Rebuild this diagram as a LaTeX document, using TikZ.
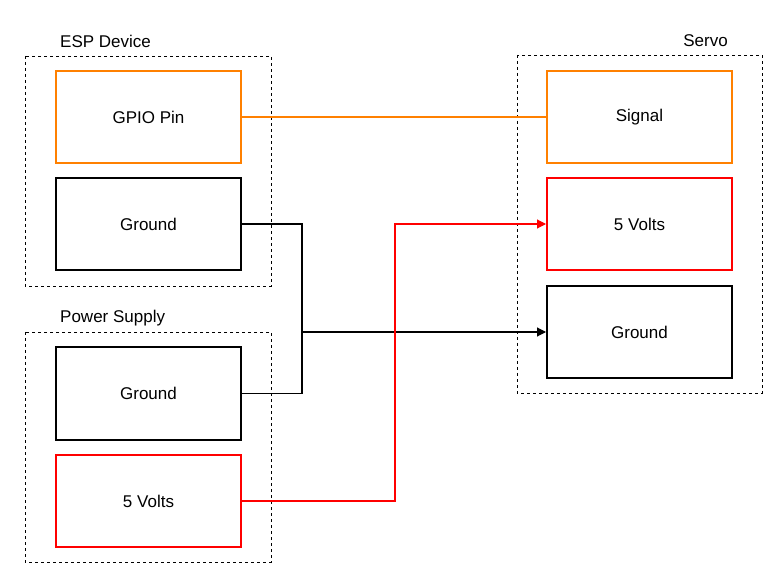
\documentclass[tikz,border=0pt]{standalone}
\usepackage{fontspec}
\setmainfont{Liberation Sans}
\usetikzlibrary{arrows.meta}

\begin{document}
\begin{tikzpicture}[x=1pt, y=-1pt, font=\fontsize{17}{20}\selectfont,
    box/.style = {draw, line width = 2pt, minimum width = 185pt, minimum height = 92pt},
    group/.style = {draw, dashed, line width = 0.8pt},
    wire/.style = {line width = 1.1pt},
    >={Triangle[length=9pt,width=9pt]}]
        \useasboundingbox (0,0) rectangle (782,585);

        % Groups
        \draw [group] (25, 56) rectangle (271, 286);
        \draw [group] (25, 332) rectangle (271, 562);
        \draw [group] (517, 55) rectangle (762, 393);
        \node [anchor = west, inner sep = 0pt] (esp) at (60, 41) {ESP Device};
        \node [anchor = west, inner sep = 0pt] (psu) at (60, 318) {Power Supply};
        \node [anchor = east, inner sep = 0pt] (srv) at (728, 41) {Servo};

        % Nodes
        \node [box, draw = orange] (gpio) at (148.5, 117) {GPIO Pin};
        \node [box] (espgnd) at (148.5, 224) {Ground};
        \node [box] (psugnd) at (148.5, 393.5) {Ground};
        \node [box, draw = red] (psuv) at (148.5, 501) {5 Volts};
        \node [box, draw = orange] (signal) at (639.5, 117) {Signal};
        \node [box, draw = red] (srvv) at (639.5, 224) {5 Volts};
        \node [box] (srvgnd) at (639.5, 332) {Ground};

        \coordinate (join) at (302, 332);

        % Edges
        \draw [wire, orange] (gpio) -- (signal);
        \draw [wire] (espgnd.east) -| (join) |- (psugnd.east);
        \draw [wire, ->] (join) -- (srvgnd.west);
        \draw [wire, red, ->] (psuv.east) -| (395, 224) -- (srvv.west);
    \end{tikzpicture}
\end{document}
